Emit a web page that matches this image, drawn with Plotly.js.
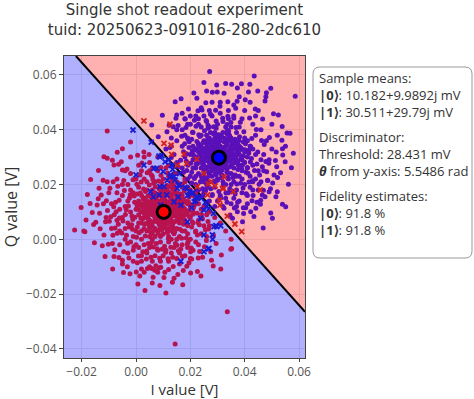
<!DOCTYPE html>
<html>
<head>
<meta charset="utf-8">
<script src="https://cdn.plot.ly/plotly-3.0.1.min.js"></script>
<style>html,body{margin:0;padding:0;background:#fff;}#chart{width:474px;height:399px;}</style>
</head>
<body>
<div id="chart"></div>
<script>
// ---- Data (values in mV) ----
const mean0_mV = [10.182, 9.9892];
const mean1_mV = [30.511, 29.79];
const threshold_mV = 28.431;
const theta_rad = 5.5486;
const fidelity0 = 91.8;
const fidelity1 = 91.8;

const xTickVals = [-0.02, 0.0, 0.02, 0.04, 0.06];
const yTickVals = [-0.04, -0.02, 0.0, 0.02, 0.04, 0.06];

// shots prepared in |0>, classified as |0>
const shots0 = [
[10,10],[11,9],[9,11],[12,11],[8,9],[10,8],[11,12],[9,8],[13,9],[7,10],[10,12],[12,8],[8,12],[11,7],[9,13],[13,12],[6,9],[12,10],[10,6],[8,7],[14,10],[7,12],[11,14],[9,6],[13,7],[6,11],[14,12],[12,13],[8,14],[10,11],[9,10],[11,11],[12,9],[7,8],[13,11],[10,13],[8,10],[11,8],
[4,10],[5,7],[5,13],[6,5],[6,15],[7,4],[7,17],[8,3],[9,17],[10,2],[11,18],[12,3],[13,16],[14,4],[15,14],[16,6],[16,11],[17,9],[17,13],[15,7],[3,12],[4,6],[4,14],[3,8],[2,10],[5,16],[6,2],[9,1],[12,1],[14,2],[15,4],[18,7],[18,11],[19,9],[16,15],[14,17],[11,16],[8,16],[5,4],[3,15],[2,6],[4,3],[7,1],[13,0],[17,3],[19,5],[20,8],[20,12],[18,14],[15,17],[6,18],[10,17],[2,13],[1,9],[3,4],[5,1],[9,-1],[12,-1],[16,1],[18,3],[21,6],[21,10],[19,13],[17,16],[12,19],[9,19],[4,18],[1,14],[0,11],[1,6],[2,3],[6,0],[15,0],[19,2],
[-2,10],[-3,6],[-3,14],[-1,17],[0,3],[-1,1],[2,0],[3,-2],[5,-3],[8,-4],[11,-4],[14,-3],[17,-2],[20,0],[22,3],[23,7],[24,11],[22,14],[20,17],[17,19],[13,21],[10,22],[7,21],[4,21],[1,19],[-2,18],[-4,12],[-5,8],[-4,4],[-2,-1],[1,-3],[4,-5],[7,-6],[10,-6],[13,-5],[16,-5],[19,-3],[22,-1],[24,2],[25,5],[26,9],[23,13],[21,16],[15,21],[12,23],[6,23],[3,22],[0,22],[-3,20],[-5,16],[-6,11],[-7,7],[-6,3],[-4,0],[-1,-4],[2,-6],[6,-8],[9,-8],[12,-8],[15,-7],[18,-6],[21,-4],[23,-2],[26,1],[27,5],[-8,9],[-9,13],[-7,17],[-5,20],[-2,24],[2,25],[5,25],[8,25],[11,26],[14,24],[18,21],
[10.5,9.5],[8.5,11.5],[12.5,10.5],[9.5,12.5],[11.5,8.5],[7.5,9.5],[13.5,10.5],[10.5,14.5],[6.5,12.5],[14.5,8.5],[8.5,5.5],[11.5,5.5],[5.5,9.5],[15.5,12.5],[12.5,15.5],[7.5,14.5],[4.5,11.5],[16.5,9.5],[9.5,15.5],[13.5,5.5],[6.5,6.5],[15.5,9.5],[3.5,10.5],[10.5,4.5],[17.5,11.5],[8.5,18.5],[13.5,18.5],[2.5,7.5],[5.5,2.5],[11.5,2.5],[17.5,5.5],[19.5,10.5],[1.5,12.5],[3.5,17.5],[16.5,16.5],[6.5,20.5],[19.5,15.5],[0.5,4.5],[7.5,-1.5],[14.5,-1.5],[20.5,4.5],[-1.5,8.5],[-0.5,13.5],[22.5,9.5],[4.5,-1.5],[10.5,-2.5],[18.5,0.5],[0.5,16.5],[9.5,20.5],[-2.5,4.5],[24.5,7.5],[16.5,-3.5],[2.5,-4.5],[-3.5,1.5],[21.5,12.5],[13.5,-6.5],[-6.5,5.5],[5.5,-6.5],[25.5,3.5],[8.5,-10.5],[19.5,-8.5],[-7.5,13.5],[-4.5,21.5],[1.5,23.5],[-10.5,10.5],[28.5,1.5],[29.5,-1.5],[27.5,-4.5],[24.5,-6.5],[26.5,6.5],[-4.5,-4.5],[-8.5,1.5],[0.5,-8.5],
[11.5,10.5],[9.5,9.5],[10.5,11.5],[8.5,8.5],[12.5,12.5],[7.5,11.5],[13.5,8.5],[9.5,7.5],[11.5,13.5],[6.5,10.5],[14.5,11.5],[10.5,7.5],[8.5,13.5],[12.5,6.5],[15.5,10.5],[5.5,11.5],[10.5,16.5],[16.5,13.5],[4.5,7.5],[13.5,14.5],[7.5,6.5],[17.5,8.5],[6.5,15.5],[11.5,17.5],[14.5,6.5],[3.5,13.5],[9.5,3.5],[18.5,13.5],[15.5,15.5],[5.5,5.5],
[15,24],[18,22],[12,27],[8,30],[20,18],[23,15],[25,12],[5,28],[3,30],[17,20],[22,17],[6,26],[14,22],[19,19],[27,10],[29,8],[31,6],[1,27],[-2,30],[-4,25],[33,3],[35,0],
[0,-2],[-3,-5],[2,-8],[5,-10],[8,-12],[12,-11],[16,-9],[20,-7],[-6,-2],[-9,4],[-11,8],[-12,13],[-10,17],[-7,22],[3,-12],[-1,-8],[-5,-9],
[10.8,12.3],[8.2,10.7],[12.9,9.4],[9.3,14.2],[11.7,6.3],[6.8,8.4],[14.2,13.1],[7.4,13.6],[13.1,4.8],[5.2,10.2],[15.8,8.1],[10.2,15.9],[8.9,4.2],[4.1,12.8],[16.9,12.2],[12.3,17.1],[6.1,16.8],[3.2,9.1],[17.4,7.2],[9.7,1.8],[14.8,15.9],[2.7,14.6],[18.3,9.8],[11.9,0.3],[4.8,5.1],[16.2,3.7],[7.1,19.2],[13.8,19.6],[1.8,7.7],[19.8,12.9],[5.9,-0.8],[0.9,10.9],[20.7,6.4],[8.3,21.3],[15.1,-2.2],[-0.7,15.8],[3.4,1.2],[21.8,14.2],[10.9,-4.7],[-1.6,5.3],[17.8,17.6],[4.9,19.8],[22.6,1.6],[-2.8,12.2],[7.8,-3.4],[13.2,22.1],[0.2,0.8],[19.1,-1.1],[-3.9,9.1],[2.8,18.4],
[10.3,8.8],[9.1,9.3],[11.4,10.9],[12.2,7.6],[8.6,12.8],[13.7,11.9],[7.9,7.1],[10.6,13.3],[12.7,14.1],[6.3,10.9],[14.6,9.7],[9.8,5.4],[5.7,13.9],[15.3,13.8],[11.2,3.9],[4.4,8.6],[16.4,10.6],[8.1,16.1],[13.6,2.7],[3.6,11.3],[17.2,14.8],[10.1,18.4],[6.7,3.3],[18.6,5.9],[2.1,15.9],[14.1,18.2],[5.3,-2.1],[19.6,8.3],[0.4,12.4],[12.8,-2.9],[-1.2,7.2],[21.2,11.6],[6.2,21.8],[16.8,0.4],[-2.4,15.1],[1.2,2.4],[23.3,5.3],[9.2,23.4],[-4.8,6.7],[15.7,20.4],[3.9,-4.3],[20.3,-3.2],[-6.2,14.3],[1.9,20.9],[24.1,9.1],[8.7,-6.9],[-3.1,-1.4],[17.1,-6.3],[-7.3,10.1],[11.6,24.2],
[-1.3,3.7],[-3.6,10.8],[-2.1,16.3],[0.3,20.1],[4.1,24.3],[-5.2,2.3],[-0.8,-2.7],[3.8,-7.2],[7.3,-9.6],[11.8,-7.1],[15.6,-4.2],[18.9,-1.7],[21.9,2.7],[22.8,6.1],[-6.1,7.8],[-8.2,11.9],[-4.3,17.8],[-1.1,21.7],[2.2,27.9],[5.6,23.6],[9.1,26.2],[-7.7,4.1],[-9.8,6.6],[-6.7,19.4],[-3.3,25.7],[0.9,-6.1],[6.9,-11.3],[13.7,-9.9],[17.4,-11.4],[23.4,-4.4],[25.9,-0.4],[-10.2,-1.8],[-8.1,-6.3],[-13.9,14.8],[-15.6,5.4],[-4.6,-12.1],[0.1,-11.9],[26.7,3.8],[-12.1,21.6],[-6.4,27.4],
[4.7,9.3],[5.8,14.8],[7.2,15.9],[3.1,5.6],[14.3,2.9],[16.1,7.4],[17.9,10.7],[15.2,16.6],[11.4,19.6],[8.1,2.1],[2.4,11.6],[12.6,4.1],[19.2,13.8],[13.1,20.3],[6.4,-2.8],[-0.4,8.1],[1.6,16.9],[20.9,9.2],[9.6,-3.6],[4.3,15.7],
[-14.8,6.2],[-16.1,9.8],[-10.9,14.1],[-9.6,18.6],[-13.2,3.9],[-7.8,-3.8],[-15.3,-1.2],[-5.4,28.3],[0.6,30.7],[-6.9,31.8],[6.3,-13.8],[1.4,-13.4],[-2.2,-12.6],[15.4,-12.8],[18.7,-9.8],[25.2,-2.7],[27.8,-7.6],[23.9,-13.4],[8.8,-16.8],[3.3,-18.7],[-8.6,-10.8],[-11.4,-6.3],[-18.4,7.1],[-20.2,11.6],[-16.7,21.8],[-13.8,25.1],
[-22.6,3.4],[-19.2,3.0],[-18.8,2.8],[-10.6,29.6],[-17.9,16.4],[-16.9,13.1],[-13.6,18.6],[-12.8,16.2],[-14.3,12.5],[-13.4,9.5],[-11.2,6.4],[-9.3,8.2],[-11.8,1.6],[-8.7,-1.5],[-12.4,-2.3],[-6.9,2.2],[-10.6,21],[-8.4,21],[-8.1,27.1],[-5,25.3],[-11.8,30.1],[-8.7,28.9],[-10.6,39.5],[-2,35.5],[-5,33.1],[2.9,31.9],[4.8,31],[14.4,-38.2],[33.6,-26.4],[0.7,-16.3],[11,-19.6],[17.2,-16.6],[6,-15.9],[-3.2,-10],[-6.3,-6.6],[10.3,-13.9],[14,-14.2],[13.4,-15.7],[20.1,-12.3],[22.6,-11.7],[28.4,-9.7],[31.2,-10.8],[31.4,-5.7],[22.9,-6.8],[20.5,-7.2],[4.2,-10.6],[5.8,-10.6],[2,-10.8],[9.1,-10.2],[10.6,-12],[-5,-7.6],[-2.6,-6.8],[35.2,-3.3],[34.9,-3.6],[20.1,-4.5]
];

// shots prepared in |1>, classified as |1>
const shots1 = [
[30,30],[31,29],[29,31],[32,31],[28,29],[30,28],[31,32],[29,28],[33,29],[27,30],[30,32],[32,28],[28,32],[31,27],[29,33],[33,32],[26,29],[32,30],[30,26],[28,27],[34,30],[27,32],[31,34],[29,26],[33,27],[26,31],[34,32],[32,33],[28,34],[30,31],[29,30],[31,31],[32,29],[27,28],[33,31],[30,33],[28,30],[31,28],
[24,30],[25,27],[25,33],[26,25],[26,35],[27,24],[27,37],[28,23],[29,37],[30,22],[31,38],[32,23],[33,36],[34,24],[35,34],[36,26],[36,31],[37,29],[37,33],[35,27],[23,32],[24,26],[24,34],[23,28],[22,30],[25,36],[26,22],[29,21],[32,21],[34,22],[35,24],[38,27],[38,31],[39,29],[36,35],[34,37],[31,36],[28,36],[25,24],[23,35],[22,26],[24,23],[27,21],[33,20],[37,23],[39,25],[40,28],[40,32],[38,34],[35,37],[26,38],[30,37],[22,33],[21,29],[23,24],[25,21],[29,19],[32,19],[36,21],[38,23],[41,26],[41,30],[39,33],[37,36],[32,39],[29,39],[24,38],[21,34],[20,31],[21,26],[22,23],[26,20],[35,20],[39,22],
[18,30],[17,26],[17,34],[19,37],[20,23],[19,22],[22,20],[23,18],[25,17],[28,16],[31,16],[34,17],[37,18],[40,20],[42,23],[43,27],[44,31],[42,34],[40,37],[37,39],[33,41],[30,42],[27,41],[24,41],[21,39],[18,38],[15,28],[27,14],[30,14],[33,15],[36,15],[39,17],[42,19],[43,21],[44,22],[45,25],[46,29],[43,33],[41,36],[35,41],[32,43],[26,43],[23,42],[20,42],[17,40],[15,36],[14,31],[29,12],[32,12],[35,13],[38,14],[41,16],[43,18],[46,21],[47,25],[11,33],[13,37],[15,40],[18,44],[22,45],[25,45],[28,45],[31,46],[34,44],[38,41],
[30.5,29.5],[28.5,31.5],[32.5,30.5],[29.5,32.5],[31.5,28.5],[27.5,29.5],[33.5,30.5],[30.5,34.5],[26.5,32.5],[34.5,28.5],[28.5,25.5],[31.5,25.5],[25.5,29.5],[35.5,32.5],[32.5,35.5],[27.5,34.5],[24.5,31.5],[36.5,29.5],[29.5,35.5],[33.5,25.5],[26.5,26.5],[35.5,29.5],[23.5,30.5],[30.5,24.5],[37.5,31.5],[28.5,38.5],[33.5,38.5],[22.5,27.5],[25.5,22.5],[31.5,22.5],[37.5,25.5],[39.5,30.5],[21.5,32.5],[23.5,37.5],[36.5,36.5],[26.5,40.5],[39.5,35.5],[20.5,24.5],[27.5,18.5],[34.5,18.5],[40.5,24.5],[18.5,28.5],[19.5,33.5],[42.5,29.5],[24.5,18.5],[30.5,17.5],[38.5,20.5],[20.5,36.5],[29.5,40.5],[17.5,24.5],[44.5,27.5],[36.5,16.5],[41.5,32.5],[33.5,13.5],[45.5,23.5],[39.5,11.5],[12.5,33.5],[15.5,41.5],[21.5,43.5],[48.5,21.5],[49.5,18.5],[47.5,15.5],[44.5,13.5],[46.5,26.5],
[31.5,30.5],[29.5,29.5],[30.5,31.5],[28.5,28.5],[32.5,32.5],[27.5,31.5],[33.5,28.5],[29.5,27.5],[31.5,33.5],[26.5,30.5],[34.5,31.5],[30.5,27.5],[28.5,33.5],[32.5,26.5],[35.5,30.5],[25.5,31.5],[30.5,36.5],[36.5,33.5],[24.5,27.5],[33.5,34.5],[27.5,26.5],[37.5,28.5],[26.5,35.5],[31.5,37.5],[34.5,26.5],[23.5,33.5],[29.5,23.5],[38.5,33.5],[35.5,35.5],[25.5,25.5],
[20,45],[24,48],[28,50],[36,49],[40,47],[44,45],[46,40],[48,36],[50,33],[45,47],[38,52],[31,50],[19,42],[17,46],[42,50],[50,42],[52,38],[55,34],[49,29],[45,18],[41,13],[37,12],[27,47],[34,47],[23,44],[43,42],[39,44],[47,31],[44,38],[36,45],
[31.1,32.1],[28.5,30.5],[33.2,29.2],[29.6,34.0],[32.0,26.1],[27.1,28.2],[34.5,32.9],[27.7,33.4],[33.4,24.6],[25.5,30.0],[36.1,27.9],[30.5,35.7],[29.2,24.0],[24.4,32.6],[37.2,32.0],[32.6,36.9],[26.4,36.6],[23.5,28.9],[37.7,27.0],[30.0,21.6],[35.1,35.7],[23.0,34.4],[38.6,29.6],[32.2,20.1],[25.1,24.9],[36.5,23.5],[27.4,39.0],[34.1,39.4],[22.1,27.5],[40.1,32.7],[26.2,19.0],[21.2,30.7],[41.0,26.2],[28.6,41.1],[35.4,17.6],[19.6,35.6],[23.7,21.0],[42.1,34.0],[31.2,15.1],[18.7,25.1],[38.1,37.4],[25.2,39.6],[42.9,21.4],[17.5,32.0],[28.1,16.4],[33.5,41.9],[20.5,20.6],[39.4,18.7],[16.4,28.9],[23.1,38.2],
[30.6,28.6],[29.4,29.1],[31.7,30.7],[32.5,27.4],[28.9,32.6],[34.0,31.7],[28.2,26.9],[30.9,33.1],[33.0,33.9],[26.6,30.7],[34.9,29.5],[30.1,25.2],[26.0,33.7],[35.6,33.6],[31.5,23.7],[24.7,28.4],[36.7,30.4],[28.4,35.9],[33.9,22.5],[23.9,31.1],[37.5,34.6],[30.4,38.2],[27.0,23.1],[38.9,25.7],[22.4,35.7],[34.4,38.0],[25.6,17.7],[39.9,28.1],[20.7,32.2],[33.1,16.9],[19.1,27.0],[41.5,31.4],[26.5,41.6],[37.1,20.2],[17.9,34.9],[21.5,22.2],[43.6,25.1],[29.5,43.2],[15.5,26.5],[36.0,44.2],[24.6,16.0],[40.6,16.6],[13.0,34.1],[37.4,13.5],[13.0,29.9],[31.9,44.2],[43.1,16.0],
[41.2,24.1],[42.6,36.8],[38.4,42.7],[33.8,44.9],[27.4,45.6],[22.1,41.3],[19.2,36.4],[18.6,31.2],[44.8,31.9],[46.2,36.1],[39.7,39.3],[34.9,42.6],[45.3,20.1],[41.6,20.9],[47.8,28.4],[36.8,40.8],[25.8,43.4],[20.8,39.1],[49.1,37.2],[43.9,47.6],[37.2,50.4],[30.9,48.6],[24.3,47.2],[18.1,43.9],[51.3,28.8],[52.1,22.6],[46.9,17.9],[42.7,14.1],[36.2,11.4],[16.8,37.6],[14.7,44.2],[11.4,39.3],[53.9,33.1],[55.6,38.8],[50.6,45.8],[41.4,53.8],[29.7,56.3],[21.3,53.4],[20.1,27.8],[24.2,21.6],
[32.8,33.6],[35.4,31.1],[28.2,35.1],[33.1,27.8],[36.8,28.3],[34.2,35.8],[29.8,37.8],[27.6,24.9],[37.9,36.1],[39.2,27.1],[26.1,28.7],[31.6,25.3],[24.8,35.3],[38.1,32.4],[35.7,22.6],[22.9,30.1],[40.3,34.9],[33.6,39.8],[28.9,21.3],[42.1,28.2],
[44.3,40.1],[47.2,34.6],[41.8,44.3],[36.7,47.8],[29.3,47.1],[22.8,46.9],[18.4,40.8],[48.9,27.8],[50.3,20.6],[45.8,12.8],[39.6,9.4],[51.6,31.9],[46.6,43.9],[40.2,50.9],[33.8,50.2],[25.7,49.8],[19.3,47.6],[53.2,24.3],[43.4,8.3],[56.1,20.1],[12.2,41.6],[9.7,45.3],[16.6,51.3],[44.8,54.1],[53.8,41.2],[57.2,26.1],[49.6,9.6],[34.6,8.9],[28.1,53.7],[37.3,55.2],
[27.1,61.2],[43.5,59.6],[25,57.2],[33,56.9],[35.2,56.6],[38.8,56.8],[41.9,56.6],[49.6,55.1],[48,53.5],[58.6,52.2],[26,54.1],[29.9,53.8],[32.4,53.3],[47.8,52],[47.5,50.5],[56.7,38.7],[14.4,50.2],[22.4,51.5],[5.8,41.7],[8.2,37.4],[13.7,41.1],[15,45.4],[52.4,45.4],[53.7,36.2],[57.9,31.4],[54,30.8],[48.1,24.7],[51.8,26.5],[54.9,28.3],[46.8,4.1],[55.1,11.9],[53.9,12.8],[50.2,7.7],[42.2,10.1],[40.4,11.5],[44.1,11.3],[35.5,7.7],[32.4,11.3],[39.2,6.4],[37.3,10.1],[46.5,16.2],[49,17.4],[52,17.4],[51.5,15.5],[48.4,21.6],[50.8,23.5],[45.9,14.3]
];

// shots prepared in |0>, classified as |1> (red crosses)
const errors0 = [
[2.9,43.2],[12.5,42],[10.3,35],[12.9,34.4],[13.1,31],[17.7,31.1],[15.2,27.1],[18.7,27.7],[22.4,29.3],[25,24.1],[26.6,20.2],[29.1,19.5],[32.2,18.6],[35.8,17.4],[45.7,18],[30.7,14.3],[31.8,18.6],[30.9,12.5],[36.4,5.6],[38.9,2.8],[33.6,8.5],[26.3,16.2],[22.6,19.2],[27.5,21],[32.4,22.8]
];

// shots prepared in |1>, classified as |0> (blue crosses)
const errors1 = [
[-1.1,39.9],[5.6,35.5],[8.5,30.4],[8.8,30.1],[10.7,28.3],[13.5,27],[0,23.5],[7.6,25.9],[10,24.7],[12.5,22.8],[14.4,21.6],[15.6,19.8],[18.7,18.6],[20.5,16.8],[22.1,15.5],[8.8,19.2],[11.3,16.2],[6.4,15.5],[22.6,15],[19.5,17.4],[25,10.7],[26.9,11.3],[28.7,4.6],[29.4,5],[25,1.6],[28.1,1.6],[26.9,-3.3],[25,-4.5],[31.2,4.9],[21.4,13.7],[23.8,7.7],[18.9,6.4],[2.9,27.1],[5.4,17.4],[8.5,16.2],[10.3,19.2],[12.8,23.5],[15.2,18.6],[14,13.7],[16.5,12.5],[9.1,12.5],[6.6,25.9],[16.5,-8],[26.6,-3.5],[28.2,0],[29.7,4.6],
[16,24],[18,19],[21,17],[24,15],[14,23],[16,20],[19,16],[22,14],[26,12],[13,27],[12,29],[22.5,15.5],[13.5,25.5],[25.5,13.5],[28.5,9.5],[9.5,30.5],[15.5,15.5],[11.5,21.5],[20.5,11.5]
];

// ---- Helpers ----
const toV = v => v / 1000;
const colI = arr => arr.map(p => toV(p[0]));
const colQ = arr => arr.map(p => toV(p[1]));

const xRange = [-0.0265, 0.0622];
const yRange = [-0.0433, 0.0669];

const T = toV(threshold_mV);
const c = Math.cos(theta_rad), s = Math.sin(theta_rad);
const rot = (x, y) => x * c - y * s - T;

function clip(keepBelow) {
  const box = [[xRange[0], yRange[0]], [xRange[0], yRange[1]], [xRange[1], yRange[1]], [xRange[1], yRange[0]]];
  const inside = p => keepBelow ? rot(p[0], p[1]) <= 0 : rot(p[0], p[1]) >= 0;
  const out = [];
  for (let i = 0; i < box.length; i++) {
    const a = box[i], b = box[(i + 1) % box.length];
    const ia = inside(a), ib = inside(b);
    if (ia) out.push(a);
    if (ia !== ib) {
      const fa = rot(a[0], a[1]), fb = rot(b[0], b[1]);
      const t = fa / (fa - fb);
      out.push([a[0] + t * (b[0] - a[0]), a[1] + t * (b[1] - a[1])]);
    }
  }
  out.push(out[0]);
  return out;
}
const reg0 = clip(true), reg1 = clip(false);
const boundary = reg0.filter(p => Math.abs(rot(p[0], p[1])) < 1e-12);

const xMarker = col => ({color: col, size: 5, symbol: 'x-thin', line: {width: 1.8, color: col}});

const traces = [
  {x: reg0.map(p => p[0]), y: reg0.map(p => p[1]), mode: 'lines', fill: 'toself',
   fillcolor: 'rgba(0,0,255,0.31)', line: {width: 0}, hoverinfo: 'skip', showlegend: false},
  {x: reg1.map(p => p[0]), y: reg1.map(p => p[1]), mode: 'lines', fill: 'toself',
   fillcolor: 'rgba(255,0,0,0.31)', line: {width: 0}, hoverinfo: 'skip', showlegend: false},
  {x: boundary.map(p => p[0]), y: boundary.map(p => p[1]), mode: 'lines',
   line: {color: '#000', width: 2}, showlegend: false},
  {x: colI(shots0), y: colQ(shots0), mode: 'markers', type: 'scatter',
   marker: {color: '#b8124f', size: 5}, showlegend: false},
  {x: colI(shots1), y: colQ(shots1), mode: 'markers', type: 'scatter',
   marker: {color: '#5a10b8', size: 5}, showlegend: false},
  {x: colI(errors1), y: colQ(errors1), mode: 'markers', type: 'scatter',
   marker: xMarker('#1a1ad0'), showlegend: false},
  {x: colI(errors0), y: colQ(errors0), mode: 'markers', type: 'scatter',
   marker: xMarker('#d02020'), showlegend: false},
  {x: [toV(mean0_mV[0])], y: [toV(mean0_mV[1])], mode: 'markers',
   marker: {color: '#ff0000', size: 13, line: {color: '#000', width: 3}}, showlegend: false},
  {x: [toV(mean1_mV[0])], y: [toV(mean1_mV[1])], mode: 'markers',
   marker: {color: '#0000ff', size: 13, line: {color: '#000', width: 3}}, showlegend: false}
];

// geometry helpers (pixel -> paper)
const W = 474, H = 399, ml = 64, mr = 169, mt = 56, mb = 41;
const pw = W - ml - mr, ph = H - mt - mb;
const px2x = px => (px - ml) / pw, py2y = py => (H - mb - py) / ph;
const bx0 = px2x(313), bx1 = px2x(472), by0 = py2y(258), by1 = py2y(67);
const rx = 7 / pw, ry = 7 / ph;
const boxPath = `M ${bx0 + rx},${by0} L ${bx1 - rx},${by0} Q ${bx1},${by0} ${bx1},${by0 + ry} L ${bx1},${by1 - ry} Q ${bx1},${by1} ${bx1 - rx},${by1} L ${bx0 + rx},${by1} Q ${bx0},${by1} ${bx0},${by1 - ry} L ${bx0},${by0 + ry} Q ${bx0},${by0} ${bx0 + rx},${by0} Z`;

const fmt = (re, im) => `${re}+${im}j mV`;
const boxGroups = [
  ['Sample means:',
   `<b>|0⟩</b>: ${fmt(mean0_mV[0], mean0_mV[1])}`,
   `<b>|1⟩</b>: ${fmt(mean1_mV[0], mean1_mV[1])}`],
  ['Discriminator:',
   `Threshold: ${threshold_mV} mV`,
   `<b><i>θ</i></b> from y-axis: ${theta_rad} rad`],
  ['Fidelity estimates:',
   `<b>|0⟩</b>: ${fidelity0} %`,
   `<b>|1⟩</b>: ${fidelity1} %`]
];
const boxGroupY = [95, 154, 213];

const font = 'Open Sans, sans-serif';
const annotations = boxGroups.map((g, i) => ({
  xref: 'paper', yref: 'paper', x: px2x(317), y: py2y(boxGroupY[i]), xanchor: 'left', yanchor: 'middle',
  align: 'left', showarrow: false, text: g.join('<br>'), font: {size: 13, color: '#333', family: font}
}));

const layout = {
  width: W, height: H,
  margin: {l: ml, r: mr, t: mt, b: mb, pad: 0},
  paper_bgcolor: '#fff', plot_bgcolor: '#fff',
  font: {family: font, color: '#3a3a3a', size: 12},
  title: {text: 'Single shot readout experiment<br>tuid: 20250623-091016-280-2dc610',
          x: 0.5, xref: 'paper', xanchor: 'center', y: 1 - 15 / H, yref: 'container', yanchor: 'top',
          font: {size: 15, color: '#333', family: 'DejaVu Sans, sans-serif'}},
  xaxis: {range: xRange, tickvals: xTickVals, tickformat: '.2f', ticks: 'outside', ticklen: 3,
          tickcolor: '#444', showline: true, mirror: true, linecolor: '#444', linewidth: 1,
          showgrid: true, gridcolor: '#e8e8e8', zeroline: false,
          tickfont: {size: 12, color: '#555'},
          title: {text: 'I value [V]', font: {size: 15, color: '#333'}, standoff: 11}},
  yaxis: {range: yRange, tickvals: yTickVals, tickformat: '.2f', ticks: 'outside', ticklen: 4,
          tickcolor: '#444', showline: true, mirror: true, linecolor: '#444', linewidth: 1,
          showgrid: true, gridcolor: '#e8e8e8', zeroline: false,
          tickfont: {size: 12, color: '#555'},
          title: {text: 'Q value [V]', font: {size: 16, color: '#333'}, standoff: 6}},
  shapes: [{type: 'path', xref: 'paper', yref: 'paper', path: boxPath,
            line: {color: '#999', width: 1}, fillcolor: 'rgba(255,255,255,1)'}],
  annotations: annotations
};

Plotly.newPlot('chart', traces, layout, {displayModeBar: false, staticPlot: true});
</script>
</body>
</html>
